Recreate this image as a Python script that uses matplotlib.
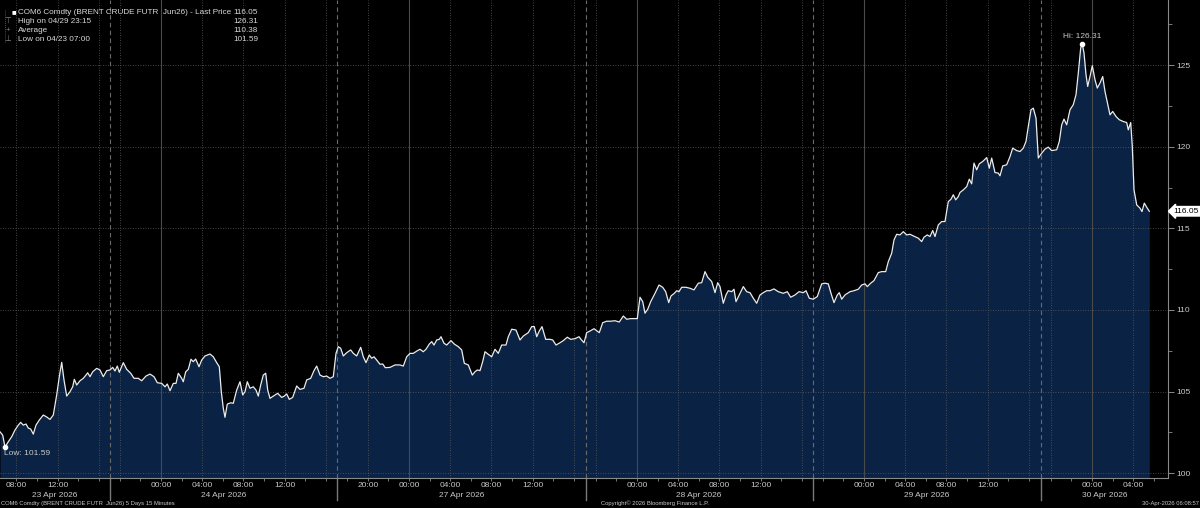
import numpy as np
import matplotlib
matplotlib.use("Agg")
import matplotlib.pyplot as plt
from matplotlib import font_manager

# position on the chart's compressed trading-time axis (~1.03 units per hour), and price
t = [0.00, 0.27, 0.50, 0.83, 1.17, 1.50, 1.83, 2.07, 2.33, 2.60, 2.83, 3.07, 3.33, 3.60, 3.93,
     4.33, 4.67, 5.00, 5.33, 5.67, 5.93, 6.17, 6.40, 6.67, 7.00, 7.27, 7.43, 7.67, 8.00, 8.33,
     8.60, 8.77, 9.00, 9.27, 9.67, 10.00, 10.33, 10.67, 11.00, 11.27, 11.50, 11.73, 11.93, 12.33,
     12.67, 13.07, 13.40, 13.83, 14.17, 14.60, 15.00, 15.40, 15.73, 16.17, 16.50, 16.73, 17.00,
     17.33, 17.60, 17.83, 18.17, 18.33, 18.57, 18.83, 19.10, 19.33, 19.57, 19.90, 20.17, 20.50,
     21.00, 21.33, 21.67, 21.93, 22.13, 22.33, 22.50, 22.73, 23.07, 23.33, 23.67, 24.00,
     24.27, 24.50, 24.73, 25.00, 25.33, 25.60, 25.83, 26.07, 26.33, 26.57, 26.77, 27.00, 27.33,
     27.77, 28.17, 28.43, 28.67, 28.93, 29.27, 29.67, 30.00, 30.40, 30.67, 31.07, 31.40, 31.67,
     32.00, 32.33, 32.67, 33.00, 33.33, 33.60, 33.83, 34.07, 34.33, 34.67, 35.07, 35.33, 35.67,
     36.07, 36.33, 36.60, 36.93, 37.17, 37.40, 37.67, 38.00, 38.27, 38.53, 39.00, 39.50, 40.00,
     40.33, 40.67, 41.00, 41.33, 41.73, 42.00, 42.33, 42.60, 42.93, 43.17, 43.40, 43.67, 43.93,
     44.10, 44.40, 44.67, 45.10, 45.43, 45.83, 46.17, 46.43, 46.83, 47.23, 47.50, 47.73, 48.00,
     48.27, 48.50, 48.83, 49.17, 49.50, 49.83, 50.17, 50.60, 50.83, 51.17, 51.60, 52.00, 52.33,
     52.83, 53.17, 53.43, 53.67, 53.93, 54.20, 54.57, 55.00, 55.27, 55.60, 56.00, 56.33, 56.73,
     57.07, 57.50, 57.90, 58.10, 58.40, 58.67, 59.07, 59.40, 59.67, 59.93, 60.27, 60.67, 61.07,
     61.50, 61.93, 62.33, 62.67, 63.07, 63.73, 64.00, 64.27, 64.50, 64.77, 65.07, 65.50, 65.90,
     66.27, 66.57, 66.87, 67.10, 67.43, 67.67, 67.90, 68.17, 68.60, 69.00, 69.40, 69.83, 70.17,
     70.50, 70.77, 71.17, 71.50, 71.77, 72.00,
     72.33, 72.60, 72.83, 73.17, 73.40, 73.60, 73.93, 74.33, 74.67, 75.00, 75.33, 75.67, 76.00,
     76.33, 76.67, 77.00, 77.40, 77.83, 78.33, 78.73, 79.07, 79.50, 79.90, 80.33, 80.60, 80.93,
     81.33, 81.73, 82.17, 82.50, 82.83, 83.10, 83.40, 83.73, 83.93, 84.17, 84.50, 85.00, 85.40,
     85.83, 86.17, 86.50, 86.73, 87.07, 87.40, 87.83, 88.17, 88.57, 88.83, 89.17, 89.40, 89.67,
     90.00, 90.33, 90.67, 91.00, 91.33, 91.83, 92.17, 92.40, 92.73, 93.00, 93.27, 93.50, 93.83,
     94.17, 94.50, 94.83, 95.10, 95.33, 95.57, 95.83, 96.00,
     96.33, 96.67, 96.93, 97.17, 97.40, 97.67, 97.93, 98.27, 98.67, 98.93, 99.17, 99.50, 99.83,
     100.00, 100.27, 100.67, 101.00, 101.27, 101.67, 102.00, 102.33, 102.60, 102.83, 103.10,
     103.33, 103.60, 103.83, 104.17, 104.50, 104.83, 105.17, 105.67, 105.93, 106.17, 106.40,
     106.67, 107.00, 107.33, 107.60, 107.83, 108.07, 108.23, 108.40, 108.60, 108.77, 109.00,
     109.23, 109.50, 109.73, 110.00, 110.27, 110.50, 110.73, 111.00, 111.27, 111.60, 111.93,
     112.33, 112.67, 112.83, 113.07, 113.23, 113.40, 113.67, 114.00, 114.20, 114.43, 114.73, 114.93]

price = [102.53, 102.33, 101.59, 101.92, 102.23, 102.64, 102.94, 103.11, 102.94, 103.01, 102.76,
         102.70, 102.39, 102.94, 103.25, 103.56, 103.44, 103.29, 103.56, 104.79, 105.91, 106.79,
         105.71, 104.72, 104.99, 105.29, 105.75, 105.40, 105.66, 105.81, 106.01, 106.15, 105.91,
         106.21, 106.42, 106.32, 105.91, 106.28, 106.32, 106.48, 106.26, 106.56, 106.18, 106.77,
         106.36, 106.12, 105.81, 105.81, 105.66, 105.95, 106.07, 105.91, 105.54, 105.50, 105.29,
         105.46, 105.05, 105.50, 105.50, 106.12, 105.81, 105.60, 106.21, 106.36, 106.98, 106.83,
         106.99, 106.52, 106.93, 107.18, 107.30, 107.13, 106.77, 106.52, 104.99, 103.97, 103.42,
         104.23, 104.31, 104.28, 105.09, 105.60,
         104.79, 104.99, 105.60, 105.20, 105.29, 105.09, 104.72, 105.40, 106.01, 106.12, 105.09,
         104.58, 104.72, 104.89, 104.64, 104.72, 104.85, 104.52, 104.64, 105.34, 105.13, 105.20,
         105.71, 105.81, 106.28, 106.56, 106.01, 105.91, 105.95, 105.81, 105.91, 107.34, 107.75,
         107.65, 107.18, 107.38, 107.55, 107.34, 107.18, 107.71, 107.13, 106.77, 107.24, 107.04,
         107.13, 106.93, 106.67, 106.69, 106.46, 106.48, 106.63, 106.63, 106.56, 107.13, 107.34,
         107.34, 107.50, 107.59, 107.44, 107.59, 107.91, 108.06, 107.85, 108.16, 108.20, 108.36,
         107.96, 107.85, 108.12, 107.91, 107.75, 107.55, 106.73, 106.63, 106.01, 106.21, 106.32,
         106.28,
         106.83, 107.44, 107.28, 107.13, 107.59, 107.34, 107.85, 107.85, 108.36, 108.82, 108.77,
         108.16, 108.40, 108.61, 108.98, 108.98, 108.36, 108.71, 108.98, 108.20, 108.20, 108.16,
         107.85, 107.99, 108.12, 108.33, 108.20, 108.24, 108.36, 108.20, 107.99, 108.61, 108.73,
         108.85, 108.73, 108.61, 109.22, 109.31, 109.31, 109.34, 109.26, 109.63, 109.43, 109.47,
         109.47, 110.78, 110.51, 109.80, 110.04, 110.51, 111.02, 111.53, 111.39, 111.12, 110.45,
         110.86, 111.02, 111.18, 111.12, 111.39, 111.39, 111.33, 111.23, 111.64, 111.67, 112.35,
         112.01, 111.74, 111.06, 111.67, 111.43,
         110.41, 110.92, 111.18, 111.12, 111.27, 110.51, 110.92, 111.43, 111.12, 111.06, 110.72,
         110.41, 110.92, 111.06, 111.18, 111.18, 111.29, 111.12, 111.02, 111.12, 110.78, 110.92,
         111.12, 111.06, 111.18, 110.72, 110.66, 110.82, 111.60, 111.64, 111.60, 111.02, 110.45,
         110.92, 111.06, 110.66, 110.92, 111.12, 111.18, 111.27, 111.53, 111.60, 111.43, 111.64,
         111.80, 112.29, 112.35, 112.35, 112.96, 113.48, 114.29, 114.64, 114.60, 114.80, 114.60,
         114.64, 114.54, 114.40, 114.19, 114.46, 114.60, 114.50, 114.87, 114.50, 115.21, 115.42,
         115.42, 116.64, 116.79, 117.06, 116.75, 116.95, 117.20,
         117.36, 117.56, 118.02, 117.73, 119.00, 118.59, 118.96, 119.10, 119.34, 118.69, 119.31,
         118.42, 118.39, 118.22, 118.83, 118.90, 119.40, 119.92, 119.77, 119.71, 119.92, 120.33,
         121.25, 122.27, 122.37, 121.76, 119.31, 119.61, 119.86, 119.98, 119.77, 119.82, 120.33,
         121.35, 121.70, 121.35, 122.27, 122.58, 123.19, 124.52, 126.06, 126.31, 125.75, 124.42,
         123.70, 124.31, 124.97, 124.11, 123.60, 123.91, 124.31, 123.39, 122.72, 121.96, 122.17,
         121.86, 121.66, 121.55, 121.49, 121.04, 121.49, 120.02, 117.36, 116.44, 116.24, 116.03,
         116.55, 116.24, 116.05]

ticker = "COM6 Comdty (BRENT CRUDE FUTR  Jun26)"
last_price = 116.05
high_price, high_when = 126.31, "04/29 23:15"
avg_price = 110.38
low_price, low_when = 101.59, "04/23 07:00"

# trading sessions: axis position of midnight, and opening hour relative to that midnight
sess_dates = ["23 Apr 2026", "24 Apr 2026", "27 Apr 2026", "28 Apr 2026", "29 Apr 2026", "30 Apr 2026"]
sess_midnight = [-6.6, 16.1, 40.9, 63.7, 86.4, 109.2]
sess_open = [6.4, -5, -7, -5, -5, -5]
HOUR = 1.03
XMAX = 116.8
YMIN, YMAX = 99.7, 129.0


def has_font(name):
    try:
        font_manager.findfont(font_manager.FontProperties(family=name), fallback_to_default=False)
        return True
    except ValueError:
        return False


base_font = "Liberation Sans" if has_font("Liberation Sans") else "DejaVu Sans"
plt.rcParams["font.family"] = [base_font, "DejaVu Sans"]

TXT = "#c8c8c8"
GRID = "#5c5c5c"
FILL = "#0a2344"

fig = plt.figure(figsize=(12, 5.08), dpi=100, facecolor="black")
ax = fig.add_axes([0, 30 / 508, 1168 / 1200, 478 / 508], facecolor="black")

t_arr = np.array(t)
p_arr = np.array(price)

ax.fill_between(t_arr, p_arr, YMIN, color=FILL, lw=0, zorder=1)
ax.plot(t_arr, p_arr, color="#ececec", lw=0.9, zorder=4)

# sessions
starts = [0.0] + [m + o * HOUR for m, o in zip(sess_midnight[1:], sess_open[1:])]
ends = starts[1:] + [XMAX]

major_pos, major_lab, minor_pos = [], [], []
for m, o, s, e in zip(sess_midnight, sess_open, starts, ends):
    for h in range(-8, 20, 2):
        pos = m + h * HOUR
        if not (s + 0.3 < pos < e - 0.3 and pos < XMAX):
            continue
        if h % 4 == 0:
            if h == 0:
                ax.axvline(pos, color="#4a4a4a", lw=0.8, zorder=2)
            else:
                ax.axvline(pos, color=GRID, lw=0.6, ls=(0, (1, 2)), zorder=2)
            if (h in (0, 4, 8, 12) or (h == -4 and o == -7)) and pos < XMAX - 1:
                major_pos.append(pos)
                major_lab.append("%02d:00" % (h % 24))
                continue
        minor_pos.append(pos)

for s in starts[1:]:
    ax.axvline(s, color="#6a6a6a", lw=0.8, ls=(0, (4, 3)), zorder=2)
    ax.plot([s, s], [0, -0.046], transform=ax.get_xaxis_transform(), color="#7a7a7a",
            lw=1.0, clip_on=False)

for d, s, e in zip(sess_dates, starts, ends):
    ax.text((s + e) / 2, -0.036, d, transform=ax.get_xaxis_transform(), ha="center",
            va="center", color=TXT, fontsize=6)

for yv in range(100, 126, 5):
    ax.axhline(yv, color=GRID, lw=0.6, ls=(0, (1, 2)), zorder=2)

ax.set_xlim(0, XMAX)
ax.set_ylim(YMIN, YMAX)
ax.set_xticks(major_pos, major_lab)
ax.set_xticks(minor_pos, minor=True)
ax.set_yticks(range(100, 126, 5))
ax.set_yticks(np.arange(102.5, 128, 5), minor=True)
ax.yaxis.tick_right()
ax.tick_params(axis="x", which="both", colors="#8a8a8a", labelcolor=TXT, labelsize=6,
               length=2, width=0.6, pad=1)
ax.tick_params(axis="y", which="major", colors="#8a8a8a", labelcolor=TXT, labelsize=6,
               length=4, width=0.7, pad=2)
ax.tick_params(axis="y", which="minor", colors="#8a8a8a", length=3, width=0.6)
for side in ("top", "left"):
    ax.spines[side].set_visible(False)
for side in ("right", "bottom"):
    ax.spines[side].set_color("#8a8a8a")
    ax.spines[side].set_linewidth(0.8)

# high / low markers
hi_i = int(np.argmax(p_arr))
lo_i = int(np.argmin(p_arr))
ax.plot(t_arr[hi_i], p_arr[hi_i], "o", color="white", ms=3, zorder=5)
ax.plot(t_arr[lo_i], p_arr[lo_i], "o", color="white", ms=3, zorder=5)
ax.annotate("Hi: %.2f" % high_price, (t_arr[hi_i], p_arr[hi_i]), xytext=(0, 3),
            textcoords="offset points", ha="center", va="bottom", color=TXT, fontsize=6)
ax.annotate("Low: %.2f" % low_price, (t_arr[lo_i], p_arr[lo_i]), xytext=(-1, -2),
            textcoords="offset points", ha="left", va="top", color=TXT, fontsize=6)

# last price tag on the axis
ax.annotate("%.2f" % last_price, (1.0, last_price), xycoords=("axes fraction", "data"),
            xytext=(4, 0), textcoords="offset points", ha="left", va="center", fontsize=6,
            color="black", annotation_clip=False,
            bbox=dict(boxstyle="larrow,pad=0.15", fc="white", ec="white"))

# legend block
rows = [("\u25A0", ticker + " - Last Price", last_price, "white"),
        ("\u22A4", "High on " + high_when, high_price, "#8a8a8a"),
        ("+", "Average", avg_price, "#8a8a8a"),
        ("\u22A5", "Low on " + low_when, low_price, "#8a8a8a")]
for k, (icon, label, val, icol) in enumerate(rows):
    yy = 1 - (12.3 + 9 * k) / 508
    fig.text(14 / 1200 if k == 0 else 8 / 1200, yy, icon, color=icol, fontsize=5.5,
             ha="center", va="center")
    fig.text(18 / 1200, yy, label, color="#d8d8d8", fontsize=5.9, ha="left", va="center")
    fig.text(258 / 1200, yy, "%.2f" % val, color="#d8d8d8", fontsize=5.9, ha="right",
             va="center")
fig.add_artist(plt.Line2D([5 / 1200, 5 / 1200], [1 - 10 / 508, 1 - 42 / 508],
                          color="#6a6a6a", lw=0.6, ls=(0, (1, 1.5))))

# footer
fig.text(1 / 1200, 4.5 / 508, ticker + " 5 Days 15 Minutes", color=TXT, fontsize=4.2,
         ha="left", va="center")
fig.text(655 / 1200, 4.5 / 508, "Copyright\u00A9 2026 Bloomberg Finance L.P.", color=TXT,
         fontsize=4.2, ha="center", va="center")
fig.text(1199 / 1200, 4.5 / 508, "30-Apr-2026 06:08:57", color=TXT, fontsize=4.2,
         ha="right", va="center")

fig.savefig("out.png", dpi=100, facecolor="black")
